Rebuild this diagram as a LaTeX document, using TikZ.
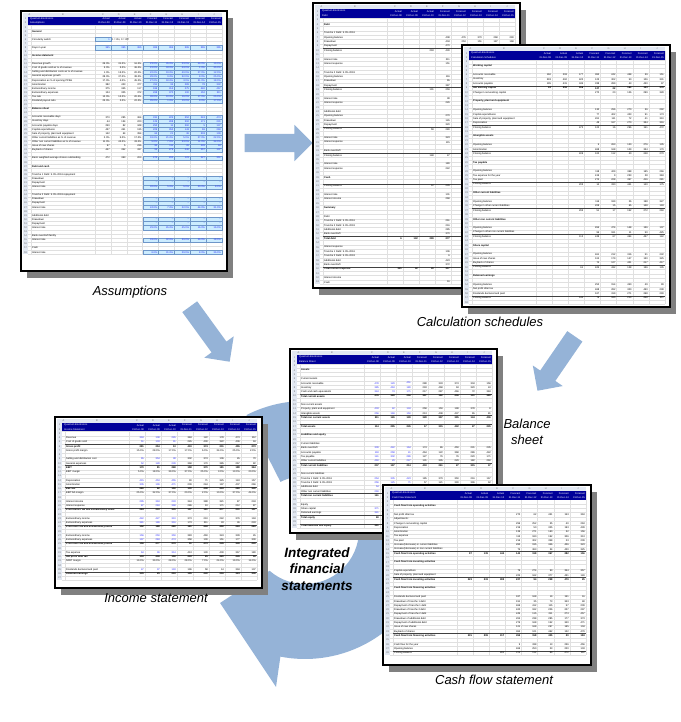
\documentclass[tikz,border=0pt]{standalone}
\usepackage{fontspec}
\setmainfont{Liberation Sans}
\usetikzlibrary{shapes.arrows, calc}
\definecolor{flowblue}{RGB}{149,179,215}
\definecolor{bandblue}{RGB}{0,0,153}
\definecolor{inputfill}{RGB}{204,236,255}
\definecolor{inputline}{RGB}{110,150,200}
\definecolor{histblue}{RGB}{40,40,255}
\definecolor{headgrey}{RGB}{226,232,242}
\definecolor{shadowgrey}{RGB}{128,128,128}
\tikzset{
  sheet/.style={rectangle, draw=black, line width=1.2pt, fill=white, inner sep=0pt},
  sheetshadow/.style={fill=shadowgrey},
  gridhead/.style={fill=headgrey},
  gridline/.style={draw=black!12, line width=0.3pt},
  band/.style={fill=bandblue},
  totline/.style={draw=black!75, line width=0.35pt},
  inputcell/.style={fill=inputfill, draw=inputline, line width=0.25pt},
  celltext/.style={inner sep=0pt, font=\fontsize{2.5}{2.5}\selectfont},
  cellbold/.style={celltext, font=\fontsize{2.5}{2.5}\selectfont\bfseries},
  histtext/.style={celltext, text=histblue},
  inputtext/.style={celltext, text=histblue},
  headtext/.style={celltext, text=white},
  rowtext/.style={celltext, text=black!55},
  flowarrow/.style={single arrow, fill=flowblue, draw=none, inner xsep=0pt, inner ysep=9pt,
                    single arrow head extend=9pt},
  lbl/.style={font=\fontsize{13}{15.5}\selectfont\itshape, align=center},
  biglbl/.style={font=\fontsize{13.5}{16.5}\selectfont\bfseries\itshape, align=center},
}
% numbers in columns #4..#5 of a row: #1 left, #2 column width, #3 y, #6 style, #7 kind
\newcommand{\cellnums}[7]{%
  \foreach \k in {#4,...,#5}{%
    \pgfmathrandominteger{\v}{5}{480}%
    \if#7p\pgfmathrandominteger{\v}{1}{45}\def\vt{\v.0\%}%
    \else\if#7z\def\vt{--}%
    \else\if#7y\def\vt{365}%
    \else\if#7o\def\vt{1}%
    \else\def\vt{\v}\fi\fi\fi\fi
    \node[#6, anchor=east] at ({#1+74+(\k+1)*#2-1},#3) {\vt};
  }}
% light blue input cells: #1 left, #2 column width, #3 y, #4 row height, #5..#6 columns
\newcommand{\cellinputs}[6]{%
  \foreach \k in {#5,...,#6}
    \draw[inputcell] ({#1+74+\k*#2},{#3-#4/2}) rectangle ({#1+74+(\k+1)*#2},{#3+#4/2});}
% one worksheet: #1 name, #2 left, #3 top, #4 right, #5 bottom, #6 row height, #7 title, #8 rows
\newcommand{\drawsheet}[8]{%
  \pgfmathsetmacro{\shW}{#4-#2}%
  \pgfmathsetmacro{\shH}{#3-#5}%
  \pgfmathsetmacro{\shC}{(\shW-79)/8}%
  \foreach \x [count=\k] in {#8}{\xdef\shN{\k}}%
  \pgfmathtruncatemacro{\shN}{\shN+2}%
  \pgfmathsetmacro{\shBot}{#3-6-\shN*#6}%
  \fill[sheetshadow] (#2+6,#5-7) rectangle (#4+6,#3-7);
  \node[sheet, minimum width=\shW pt, minimum height=\shH pt] (#1) at ({(#2+#4)/2},{(#3+#5)/2}) {};
  \fill[gridhead] (#2+2,#3-2) rectangle (#4-5,#3-6);
  \fill[gridhead] (#2+2,#3-6) rectangle (#2+7,\shBot);
  \foreach \r in {1,...,\shN}{%
    \draw[gridline] (#2+7,{#3-6-\r*#6}) -- (#4-5,{#3-6-\r*#6});
    \node[rowtext] at (#2+4.5,{#3-6-(\r-0.5)*#6}) {\r};}
  \foreach \k in {0,...,8}
    \draw[gridline] ({#2+74+\k*\shC},#3-6) -- ({#2+74+\k*\shC},\shBot);
  \draw[gridline] (#2+10,#3-6) -- (#2+10,\shBot);
  \node[rowtext] at (#2+8.5,#3-4) {A};
  \node[rowtext] at (#2+42,#3-4) {B};
  \foreach \lt [count=\k from 0] in {C,D,E,F,G,H,I,J}
    \node[rowtext] at ({#2+74+(\k+0.5)*\shC},#3-4) {\lt};
  % title band
  \fill[band] (#2+7,#3-6) rectangle (#4-5,{#3-6-2*#6});
  \node[headtext, anchor=west] at (#2+9,{#3-6-0.5*#6}) {Quantum Electronics};
  \node[headtext, anchor=west] at (#2+9,{#3-6-1.5*#6}) {#7};
  \foreach \hd/\dt [count=\k from 1] in {Actual/31-Dec-08, Actual/31-Dec-09, Actual/31-Dec-10,
      Forecast/31-Dec-11, Forecast/31-Dec-12, Forecast/31-Dec-13, Forecast/31-Dec-14, Forecast/31-Dec-15}{%
    \node[headtext, anchor=east] at ({#2+74+\k*\shC-1},{#3-6-0.5*#6}) {\hd};
    \node[headtext, anchor=east] at ({#2+74+\k*\shC-1},{#3-6-1.5*#6}) {\dt};}
  % rows
  \foreach \rk/\rl [count=\r from 3] in {#8}{%
    \pgfmathsetmacro{\ry}{#3-6-(\r-0.5)*#6}%
    \pgfmathsetmacro{\ryt}{#3-6-(\r-1)*#6}%
    \if\rk e\else
      \if\rk h\node[cellbold, anchor=west] (#1-\r) at (#2+11,\ry) {\rl};%
      \else\if\rk t\node[cellbold, anchor=west] (#1-\r) at (#2+11,\ry) {\rl};%
      \else\node[celltext, anchor=west] (#1-\r) at (#2+11,\ry) {\rl};\fi\fi
    \fi
    \if\rk n\cellnums{#2}{\shC}{\ry}{0}{7}{celltext}{n}\fi
    \if\rk a\cellnums{#2}{\shC}{\ry}{0}{2}{histtext}{n}\cellnums{#2}{\shC}{\ry}{3}{7}{celltext}{n}\fi
    \if\rk f\cellnums{#2}{\shC}{\ry}{3}{7}{celltext}{n}\fi
    \if\rk l\draw[totline] (#2+10,\ryt) -- (#4-5,\ryt);\cellnums{#2}{\shC}{\ry}{2}{7}{celltext}{n}\fi
    \if\rk t\draw[totline] (#2+10,\ryt) -- (#4-5,\ryt);\cellnums{#2}{\shC}{\ry}{0}{7}{cellbold}{n}\fi
    \if\rk p\cellnums{#2}{\shC}{\ry}{0}{7}{celltext}{p}\fi
    \if\rk q\cellnums{#2}{\shC}{\ry}{0}{2}{celltext}{p}\cellinputs{#2}{\shC}{\ry}{#6}{3}{7}%
      \cellnums{#2}{\shC}{\ry}{3}{7}{inputtext}{p}\fi
    \if\rk j\cellnums{#2}{\shC}{\ry}{0}{2}{celltext}{n}\cellinputs{#2}{\shC}{\ry}{#6}{3}{7}%
      \cellnums{#2}{\shC}{\ry}{3}{7}{inputtext}{n}\fi
    \if\rk k\cellinputs{#2}{\shC}{\ry}{#6}{3}{7}\cellnums{#2}{\shC}{\ry}{3}{7}{inputtext}{z}\fi
    \if\rk r\cellinputs{#2}{\shC}{\ry}{#6}{3}{7}\cellnums{#2}{\shC}{\ry}{3}{7}{inputtext}{p}\fi
    \if\rk d\cellinputs{#2}{\shC}{\ry}{#6}{0}{7}\cellnums{#2}{\shC}{\ry}{0}{7}{inputtext}{y}\fi
    \if\rk s\cellinputs{#2}{\shC}{\ry}{#6}{0}{0}\cellnums{#2}{\shC}{\ry}{0}{0}{inputtext}{o}%
      \node[celltext, anchor=west] at ({#2+74+\shC+1},\ry) {1 = On, 0 = Off};\fi
  }}

\begin{document}
\begin{tikzpicture}[x=1pt, y=1pt]
  \useasboundingbox (0,0) rectangle (680,722);
  \pgfmathsetseed{11}
  % big cycle arrow behind the statements
  \coordinate (ringc) at (305,192);
  \fill[flowblue] ($(ringc)+(117:129)$) arc[start angle=117, end angle=-101, radius=129]
    -- (276,35) -- (220,119) -- ($(ringc)+(-131:54)$)
    arc[start angle=-131, end angle=117, radius=54] -- cycle;
  % step arrows
  \node[flowarrow, minimum height=68pt] (asm2calc) at (274,579) {};
  \node[flowarrow, minimum height=68pt, rotate=-54] (asm2is) at (207,391.5) {};
  \node[flowarrow, minimum height=66pt, rotate=-124.5] (calc2bs) at (558.75,362.25) {};

  \drawsheet{asm}{21}{711}{227}{451}{4.09}{Assumptions}{e/{}, h/General, e/{}, s/{Circularity switch}, e/{},
    d/{Days in year}, e/{}, h/{Income statement}, e/{}, q/{Revenue growth},
    q/{Cost of goods sold as \% of revenue}, q/{Selling and distribution costs as \% of revenue},
    q/{General expenses growth}, q/{Depreciation as \% of opening PP\&E}, j/Amortization,
    j/{Extraordinary income}, j/{Extraordinary expenses}, q/{Tax rate}, q/{Dividend payout ratio}, e/{},
    h/{Balance sheet}, e/{}, j/{Accounts receivable days}, j/{Inventory days}, j/{Accounts payable days},
    j/{Capital expenditures}, j/{Sale of property, plant and equipment},
    q/{Other current liabilities as \% of revenue}, q/{Other non current liabilities as \% of revenue},
    j/{Issue of new shares}, j/{Buyback of shares}, e/{}, j/{Basic weighted average shares outstanding},
    e/{}, h/{Debt and cash}, e/{}, u/{Tranche 1 Debt: 5.0\% 2016 repayment}, k/Drawdown, k/Repayment,
    r/{Interest rate}, e/{}, u/{Tranche 2 Debt: 5.0\% 2018 repayment}, k/Drawdown, k/Repayment,
    r/{Interest rate}, e/{}, u/{Additional debt}, k/Drawdown, k/Repayment, r/{Interest rate}, e/{},
    u/{Bank overdraft facility}, r/{Interest rate}, e/{}, u/Cash, r/{Interest rate}}

  \drawsheet{debt}{313}{719}{520}{434}{4.37}{Debt}{e/{}, h/Debt, e/{}, u/{Tranche 1 Debt: 5.0\% 2016},
    f/{Opening balance}, f/Drawdown, f/Repayment, l/{Closing balance}, e/{}, f/{Interest rate},
    f/{Interest expense}, e/{}, u/{Tranche 2 Debt: 5.0\% 2018}, f/{Opening balance}, f/Drawdown,
    f/Repayment, l/{Closing balance}, e/{}, f/{Interest rate}, f/{Interest expense}, e/{},
    u/{Additional debt}, f/{Opening balance}, f/Drawdown, f/Repayment, l/{Closing balance}, e/{},
    f/{Interest rate}, f/{Interest expense}, e/{}, u/{Bank overdraft}, l/{Closing balance}, e/{},
    f/{Interest rate}, f/{Interest expense}, e/{}, h/Cash, e/{}, l/{Closing balance}, e/{},
    f/{Interest rate}, f/{Interest income}, e/{}, h/Summary, e/{}, u/Debt, f/{Tranche 1 Debt: 5.0\% 2016},
    f/{Tranche 2 Debt: 5.0\% 2018}, f/{Additional debt}, f/{Bank overdraft}, t/{Total debt}, e/{},
    u/{Interest expense}, f/{Tranche 1 Debt: 5.0\% 2016}, f/{Tranche 2 Debt: 5.0\% 2018},
    f/{Additional debt}, f/{Bank overdraft}, t/{Total interest expense}, e/{}, u/{Interest income}, f/Cash}

  \drawsheet{calc}{462}{677}{670}{415}{4.37}{Calculation Schedules}{e/{}, h/{Working capital}, e/{},
    n/{Accounts receivable}, n/Inventory, n/{Accounts payable}, t/{Net working capital},
    f/{Change in net working capital}, e/{}, h/{Property, plant and equipment}, e/{}, f/{Opening balance},
    f/{Capital expenditures}, f/{Sale of property, plant and equipment}, f/Depreciation,
    l/{Closing balance}, e/{}, h/{Intangible assets}, e/{}, f/{Opening balance}, f/Amortization,
    l/{Closing balance}, e/{}, h/{Tax payable}, e/{}, f/{Opening balance}, f/{Tax expense for the year},
    f/{Tax paid}, l/{Closing balance}, e/{}, h/{Other current liabilities}, e/{}, f/{Opening balance},
    f/{Change in other current liabilities}, l/{Closing balance}, e/{}, h/{Other non current liabilities},
    e/{}, f/{Opening balance}, f/{Change in other non current liabilities}, l/{Closing balance}, e/{},
    h/{Share capital}, e/{}, f/{Opening balance}, f/{Issue of new shares}, f/{Buyback of shares},
    l/{Closing balance}, e/{}, h/{Retained earnings}, e/{}, f/{Opening balance}, f/{Net profit after tax},
    f/{Dividends declared and paid}, l/{Closing balance}, e/{}}

  \drawsheet{bs}{290}{373}{497}{189}{4.33}{Balance Sheet}{e/{}, h/Assets, e/{}, u/{Current assets},
    a/{Accounts receivable}, a/Inventory, a/{Cash and cash equivalents}, t/{Total current assets}, e/{},
    u/{Non current assets}, a/{Property, plant and equipment}, a/{Intangible assets},
    t/{Total non current assets}, e/{}, t/{Total assets}, e/{}, h/{Liabilities and equity}, e/{},
    u/{Current liabilities}, a/{Bank overdraft}, a/{Accounts payable}, a/{Tax payable},
    a/{Other current liabilities}, t/{Total current liabilities}, e/{}, u/{Non current liabilities},
    a/{Tranche 1 Debt: 5.0\% 2016}, a/{Tranche 2 Debt: 5.0\% 2018}, a/{Additional debt},
    a/{Other non current liabilities}, t/{Total non current liabilities}, e/{}, u/Equity,
    a/{Share capital}, a/{Retained earnings}, t/{Total equity}, e/{}, t/{Total liabilities and equity}}

  \drawsheet{is}{55}{305}{262}{134}{4.25}{Income Statement}{e/{}, a/Revenue, a/{Cost of goods sold},
    t/{Gross profit}, p/{Gross profit margin}, e/{}, a/{Selling and distribution cost},
    a/{General expenses}, t/EBIT, p/{EBIT margin}, e/{}, a/Depreciation, a/Amortization, t/EBITDA,
    p/{EBITDA margin}, e/{}, a/{Interest income}, a/{Interest expense},
    t/{Profit before tax and extraordinary items}, e/{}, a/{Extraordinary income},
    a/{Extraordinary expenses}, t/{Profit after tax and extraordinary items}, e/{},
    a/{Extraordinary income}, a/{Extraordinary expenses}, t/{Profit after tax and extraordinary items},
    e/{}, a/{Tax expense}, t/{Net profit after tax}, p/{NPAT margin}, e/{},
    a/{Dividends declared and paid}, t/{Retained earnings}, e/{}}

  \drawsheet{cfs}{383}{237}{591}{57}{4.32}{Cash Flow Statement}{e/{},
    h/{Cash flow from operating activities}, e/{}, f/{Net profit after tax}, u/{Adjustments:},
    f/{Change in net working capital}, f/Depreciation, f/Amortization, f/{Tax expense}, f/{Tax paid},
    f/{Increase/(decrease) in current liabilities}, f/{Increase/(decrease) in non current liabilities},
    t/{Cash flow from operating activities}, e/{}, h/{Cash flow from investing activities}, e/{},
    f/{Capital expenditure}, f/{Sale of property, plant and equipment},
    t/{Cash flow from investing activities}, e/{}, h/{Cash flow from financing activities}, e/{},
    f/{Dividends declared and paid}, f/{Drawdown of tranche 1 debt}, f/{Repayment of tranche 1 debt},
    f/{Drawdown of tranche 2 debt}, f/{Repayment of tranche 2 debt}, f/{Drawdown of additional debt},
    f/{Repayment of additional debt}, f/{Issue of new shares}, f/{Buyback of shares},
    t/{Cash flow from financing activities}, e/{}, f/{Cash flow for the year}, f/{Opening balance},
    l/{Closing balance}}

  % captions
  \node[lbl] (asmlbl) at (130,430) {Assumptions};
  \node[lbl] (calclbl) at (480,400) {Calculation schedules};
  \node[lbl] (bslbl) at (527,290) {Balance\\sheet};
  \node[lbl] (islbl) at (156,124) {Income statement};
  \node[lbl] (cfslbl) at (494,42) {Cash flow statement};
  \node[biglbl] (intlbl) at (317,153) {Integrated\\financial\\statements};
\end{tikzpicture}
\end{document}
